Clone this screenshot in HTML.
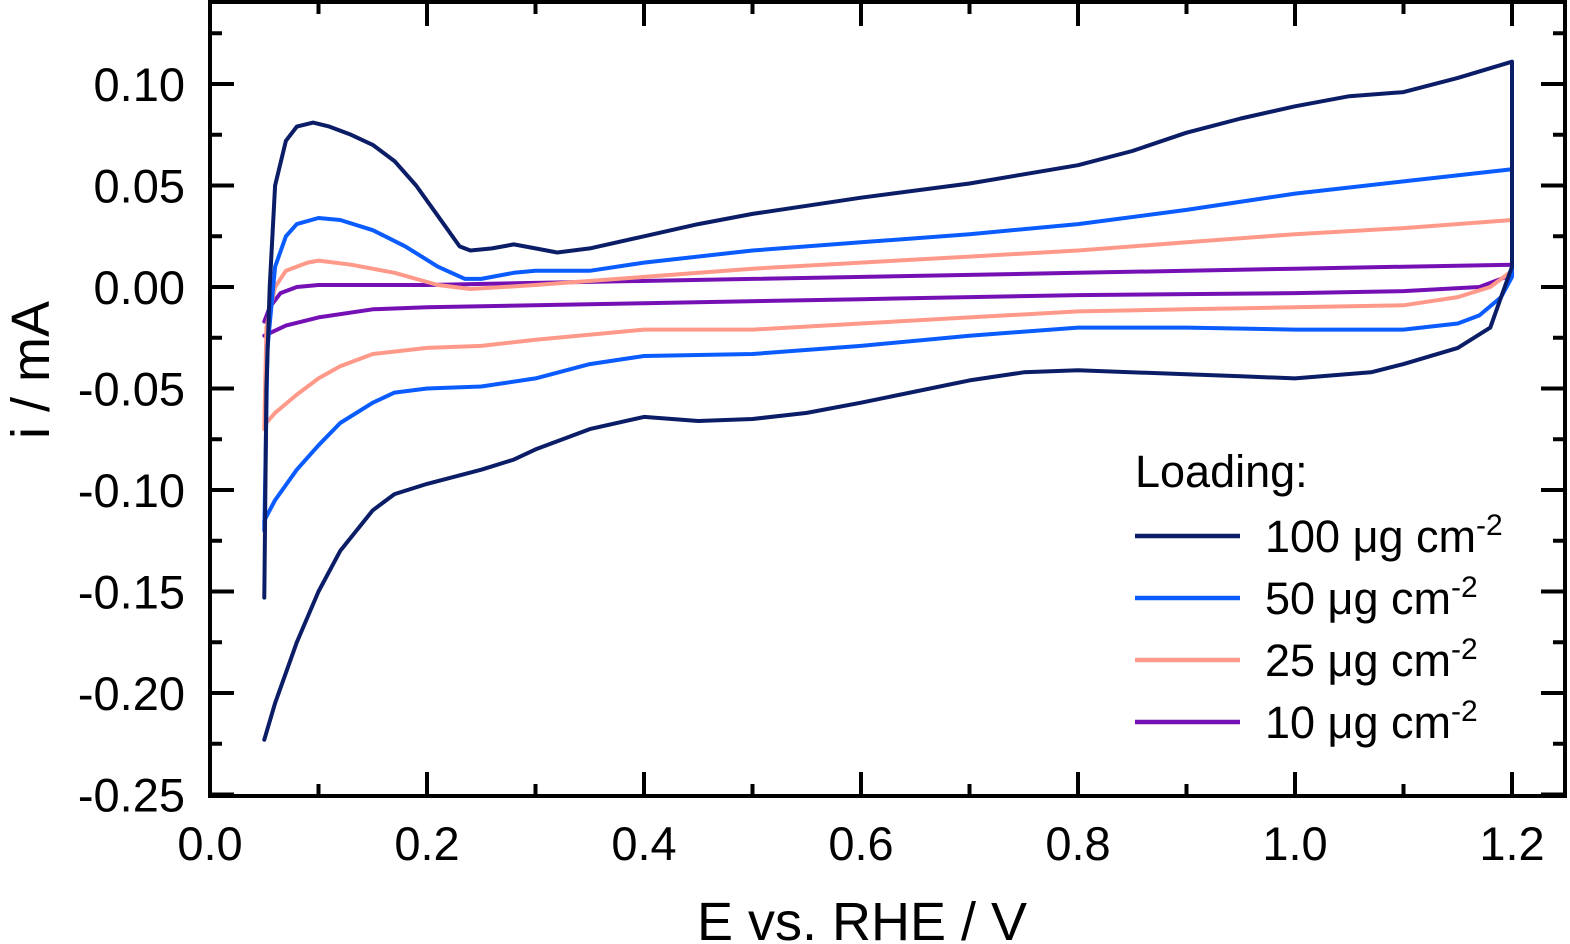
<!DOCTYPE html>
<html><head><meta charset="utf-8"><style>
html,body{margin:0;padding:0;background:#fff;}
svg{display:block;font-family:"Liberation Sans",Arial,sans-serif;}
</style></head><body>
<svg id="s" width="1570" height="944" viewBox="0 0 1570 944" xmlns="http://www.w3.org/2000/svg">
<g id="curves" fill="none" stroke-width="4" stroke-linejoin="round" stroke-linecap="round"></g>
<rect x="210" y="2" width="1355" height="794" fill="none" stroke="#000" stroke-width="4"/>
<g id="ticks" stroke="#000" stroke-width="4"></g>
<g id="labels" font-size="47" fill="#000"></g>
<text x="862" y="940" font-size="54" text-anchor="middle">E vs. RHE / V</text>
<text transform="translate(49,370) rotate(-90)" font-size="54" text-anchor="middle">i / mA</text>
<g font-size="45">
<text x="1135" y="487">Loading:</text>
<line x1="1135" y1="536" x2="1240" y2="536" stroke="#0b1d66" stroke-width="4.5"/>
<line x1="1135" y1="598" x2="1240" y2="598" stroke="#0a5cff" stroke-width="4.5"/>
<line x1="1135" y1="660" x2="1240" y2="660" stroke="#ff9a8a" stroke-width="4.5"/>
<line x1="1135" y1="722" x2="1240" y2="722" stroke="#7510b5" stroke-width="4.5"/>
<text x="1265" y="552">100 μg cm<tspan font-size="30" dy="-17">-2</tspan></text>
<text x="1265" y="614">50 μg cm<tspan font-size="30" dy="-17">-2</tspan></text>
<text x="1265" y="676">25 μg cm<tspan font-size="30" dy="-17">-2</tspan></text>
<text x="1265" y="738">10 μg cm<tspan font-size="30" dy="-17">-2</tspan></text>
</g>
</svg>
<script>
var NS="http://www.w3.org/2000/svg";
function X(v){return 210+1085*v;}function Y(v){return 287-2030*v;}
function el(t,a,p,txt){var e=document.createElementNS(NS,t);for(var k in a)e.setAttribute(k,a[k]);if(txt)e.textContent=txt;p.appendChild(e);return e;}
var tk=document.getElementById('ticks'),lb=document.getElementById('labels');
for(var i=0;i<=13;i++){var v=i*0.1,x=X(v),m=i%2==0,L=m?24:12;
el('line',{x1:x,y1:796,x2:x,y2:796-L},tk);el('line',{x1:x,y1:2,x2:x,y2:2+L},tk);
if(m&&v<1.25)el('text',{x:x,y:860,'text-anchor':'middle'},lb,v.toFixed(1));}
for(var i=-10;i<=5;i++){var v=i*0.025,y=Y(v);if(y<2||y>796)continue;var m=(i%2==0),L=m?24:12;
el('line',{x1:210,y1:y,x2:210+L,y2:y},tk);el('line',{x1:1565,y1:y,x2:1565-L,y2:y},tk);
if(m)el('text',{x:185,y:y+17,'text-anchor':'end'},lb,(v<0?'-':'')+Math.abs(v).toFixed(2));}
var data=[
["#7510b5",[[0.05,-0.017],[0.055,-0.01],[0.065,-0.003],[0.08,0.0],[0.1,0.001],[0.2,0.001],[0.3,0.002],[0.5,0.004],[0.8,0.007],[1.0,0.009],[1.2,0.011],[1.2,0.006],[1.17,0.0],[1.1,-0.002],[1.0,-0.003],[0.8,-0.004],[0.6,-0.006],[0.4,-0.008],[0.2,-0.01],[0.15,-0.011],[0.1,-0.015],[0.07,-0.019],[0.05,-0.024]]],
["#ff9a8a",[[0.05,-0.07],[0.052,-0.02],[0.06,0.0],[0.07,0.008],[0.09,0.012],[0.1,0.013],[0.13,0.011],[0.17,0.007],[0.21,0.001],[0.24,-0.001],[0.27,0.0],[0.3,0.001],[0.4,0.005],[0.5,0.009],[0.6,0.012],[0.7,0.015],[0.8,0.018],[0.9,0.022],[1.0,0.026],[1.1,0.029],[1.2,0.033],[1.2,0.008],[1.18,0.0],[1.15,-0.005],[1.1,-0.009],[1.0,-0.01],[0.9,-0.011],[0.8,-0.012],[0.7,-0.015],[0.6,-0.018],[0.5,-0.021],[0.4,-0.021],[0.3,-0.026],[0.25,-0.029],[0.2,-0.03],[0.15,-0.033],[0.12,-0.039],[0.1,-0.045],[0.08,-0.053],[0.06,-0.062],[0.05,-0.068]]],
["#0a5cff",[[0.05,-0.12],[0.053,-0.03],[0.06,0.01],[0.07,0.025],[0.08,0.031],[0.1,0.034],[0.12,0.033],[0.15,0.028],[0.18,0.02],[0.21,0.01],[0.235,0.004],[0.25,0.004],[0.28,0.007],[0.3,0.008],[0.35,0.008],[0.4,0.012],[0.5,0.018],[0.6,0.022],[0.7,0.026],[0.8,0.031],[0.9,0.038],[1.0,0.046],[1.1,0.052],[1.2,0.058],[1.2,0.005],[1.19,-0.005],[1.17,-0.014],[1.15,-0.018],[1.1,-0.021],[1.0,-0.021],[0.9,-0.02],[0.8,-0.02],[0.7,-0.024],[0.6,-0.029],[0.5,-0.033],[0.4,-0.034],[0.35,-0.038],[0.3,-0.045],[0.25,-0.049],[0.2,-0.05],[0.17,-0.052],[0.15,-0.057],[0.12,-0.067],[0.1,-0.078],[0.08,-0.09],[0.06,-0.105],[0.05,-0.115],[0.05,-0.12]]],
["#0b1d66",[[0.05,-0.153],[0.052,-0.05],[0.055,0.0],[0.06,0.05],[0.07,0.072],[0.08,0.079],[0.095,0.081],[0.11,0.079],[0.13,0.075],[0.15,0.07],[0.17,0.062],[0.19,0.05],[0.21,0.035],[0.23,0.02],[0.24,0.018],[0.26,0.019],[0.28,0.021],[0.3,0.019],[0.32,0.017],[0.35,0.019],[0.4,0.025],[0.45,0.031],[0.5,0.036],[0.6,0.044],[0.7,0.051],[0.8,0.06],[0.85,0.067],[0.9,0.076],[0.95,0.083],[1.0,0.089],[1.05,0.094],[1.1,0.096],[1.15,0.103],[1.2,0.111],[1.2,0.01],[1.19,-0.005],[1.18,-0.02],[1.15,-0.03],[1.1,-0.038],[1.07,-0.042],[1.0,-0.045],[0.95,-0.044],[0.9,-0.043],[0.8,-0.041],[0.75,-0.042],[0.7,-0.046],[0.6,-0.057],[0.55,-0.062],[0.5,-0.065],[0.45,-0.066],[0.4,-0.064],[0.35,-0.07],[0.3,-0.08],[0.28,-0.085],[0.25,-0.09],[0.2,-0.097],[0.17,-0.102],[0.15,-0.11],[0.12,-0.13],[0.1,-0.15],[0.08,-0.175],[0.06,-0.205],[0.05,-0.223]]]];
var g=document.getElementById('curves');
data.forEach(function(d){var s=d[1].map(function(p,i){return (i?'L':'M')+X(p[0]).toFixed(1)+' '+Y(p[1]).toFixed(1);}).join(' ');
el('path',{d:s,stroke:d[0]},g);});
</script>
</body></html>
